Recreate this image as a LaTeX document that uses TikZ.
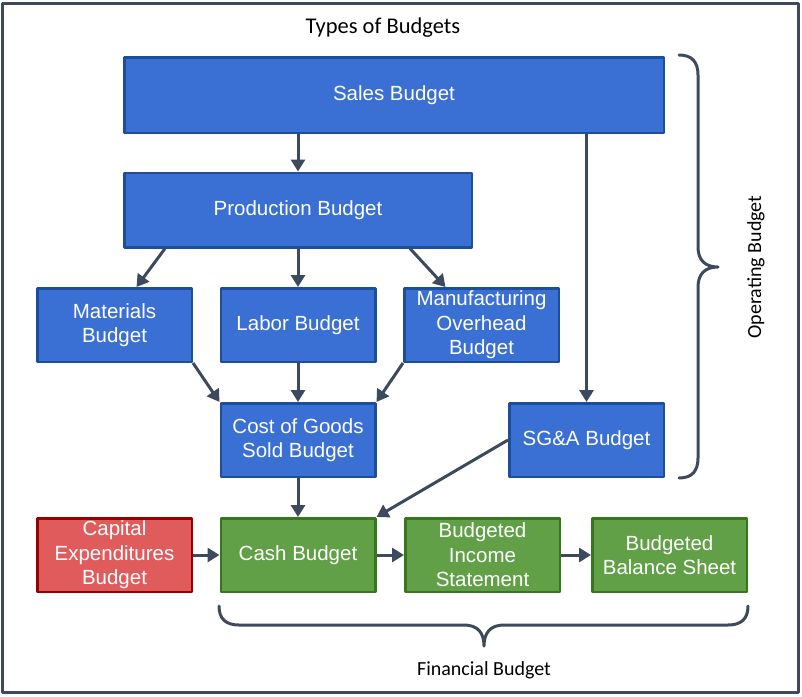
\documentclass[tikz,border=0pt]{standalone}
\usepackage{fontspec}
\setmainfont{Liberation Sans}
\newfontfamily\calib{Carlito}
\usetikzlibrary{arrows.meta}
\definecolor{bluefill}{HTML}{3A6FD3}
\definecolor{blueline}{HTML}{1D4E9A}
\definecolor{greenfill}{HTML}{61A047}
\definecolor{greenline}{HTML}{38761D}
\definecolor{redfill}{HTML}{E05C5C}
\definecolor{redline}{HTML}{990000}
\definecolor{slate}{HTML}{3D4A5E}
\begin{document}
\begin{tikzpicture}[x=1pt, y=-1pt, line join=round, >={Triangle[length=12pt,width=14pt]},
		box/.style={draw=blueline, fill=bluefill, line width=2.5pt, text=white, align=center, inner sep=0pt, minimum width=154.5pt, minimum height=73.5pt, font=\fontsize{20.5}{24.5}\selectfont},
		finbox/.style={box, draw=greenline, fill=greenfill},
		capbox/.style={box, draw=redline, fill=redfill},
		arr/.style={->, draw=slate, line width=3pt},
		brc/.style={draw=slate, line width=3pt, line cap=round},
		lbl/.style={font=\calib\fontsize{20}{24}\selectfont}]
		\useasboundingbox (0,0) rectangle (802,696);
		\draw[slate, line width=3pt] (2,3) rectangle (798.5,692);
		\node[lbl, font=\calib\fontsize{22.5}{26}\selectfont] (title) at (383,28) {Types of Budgets};
		\node[box, minimum width=539.5pt, minimum height=75.5pt] (sales) at (394,95) {Sales Budget};
		\node[box, minimum width=347.5pt, minimum height=74.5pt] (prod) at (298,210) {Production Budget};
		\foreach \n/\x/\y/\t in {mat/114.5/325/{Materials\\Budget}, lab/298/325/{Labor Budget}, manu/481.5/325/{Manufacturing\\Overhead\\Budget}, cogs/298/440/{Cost of Goods\\Sold Budget}, sga/586.5/440/{SG\&A Budget}}
			\node[box] (\n) at (\x,\y) {\t};
		\node[capbox] (capex) at (114.5,555) {Capital\\Expenditures\\Budget};
		\foreach \n/\x/\t in {cash/298/{Cash Budget}, inc/482.5/{Budgeted\\Income\\Statement}, bal/669.5/{Budgeted\\Balance Sheet}}
			\node[finbox] (\n) at (\x,555) {\t};
		\draw[arr] (sales.south -| prod.north) -- (prod.north);
		\draw[arr] (sales.south -| sga.north) -- (sga.north);
		\draw[arr] ([xshift=42pt]prod.south west) -- ([xshift=22pt]mat.north);
		\draw[arr] (prod.south -| lab.north) -- (lab.north);
		\draw[arr] ([xshift=-63pt]prod.south east) -- ([xshift=-36pt]manu.north);
		\draw[arr] (mat.south east) -- (cogs.north west);
		\draw[arr] (lab.south) -- (cogs.north);
		\draw[arr] (manu.south west) -- (cogs.north east);
		\draw[arr] (cogs.south) -- (cash.north);
		\draw[arr] (sga.west) -- (cash.north east);
		\draw[arr] (capex.east) -- (cash.west);
		\draw[arr] (cash.east) -- (inc.west);
		\draw[arr] (inc.east) -- (bal.west);
		\draw[brc] (679,55) .. controls (692,55) and (698,62) .. (698,75) -- (698,247) .. controls (698,260) and (705,267) .. (718,267) .. controls (705,267) and (698,274) .. (698,287) -- (698,458) .. controls (698,471) and (692,478) .. (679,478);
		\draw[brc] (219,606) .. controls (219,619) and (226,625) .. (239,625) -- (464,625) .. controls (477,625) and (484,632) .. (484,646) .. controls (484,632) and (491,625) .. (504,625) -- (728,625) .. controls (741,625) and (748,619) .. (748,606);
		\node[lbl, rotate=90] (oper) at (756,267) {Operating Budget};
		\node[lbl] (fin) at (484,670) {Financial Budget};
\end{tikzpicture}
\end{document}
